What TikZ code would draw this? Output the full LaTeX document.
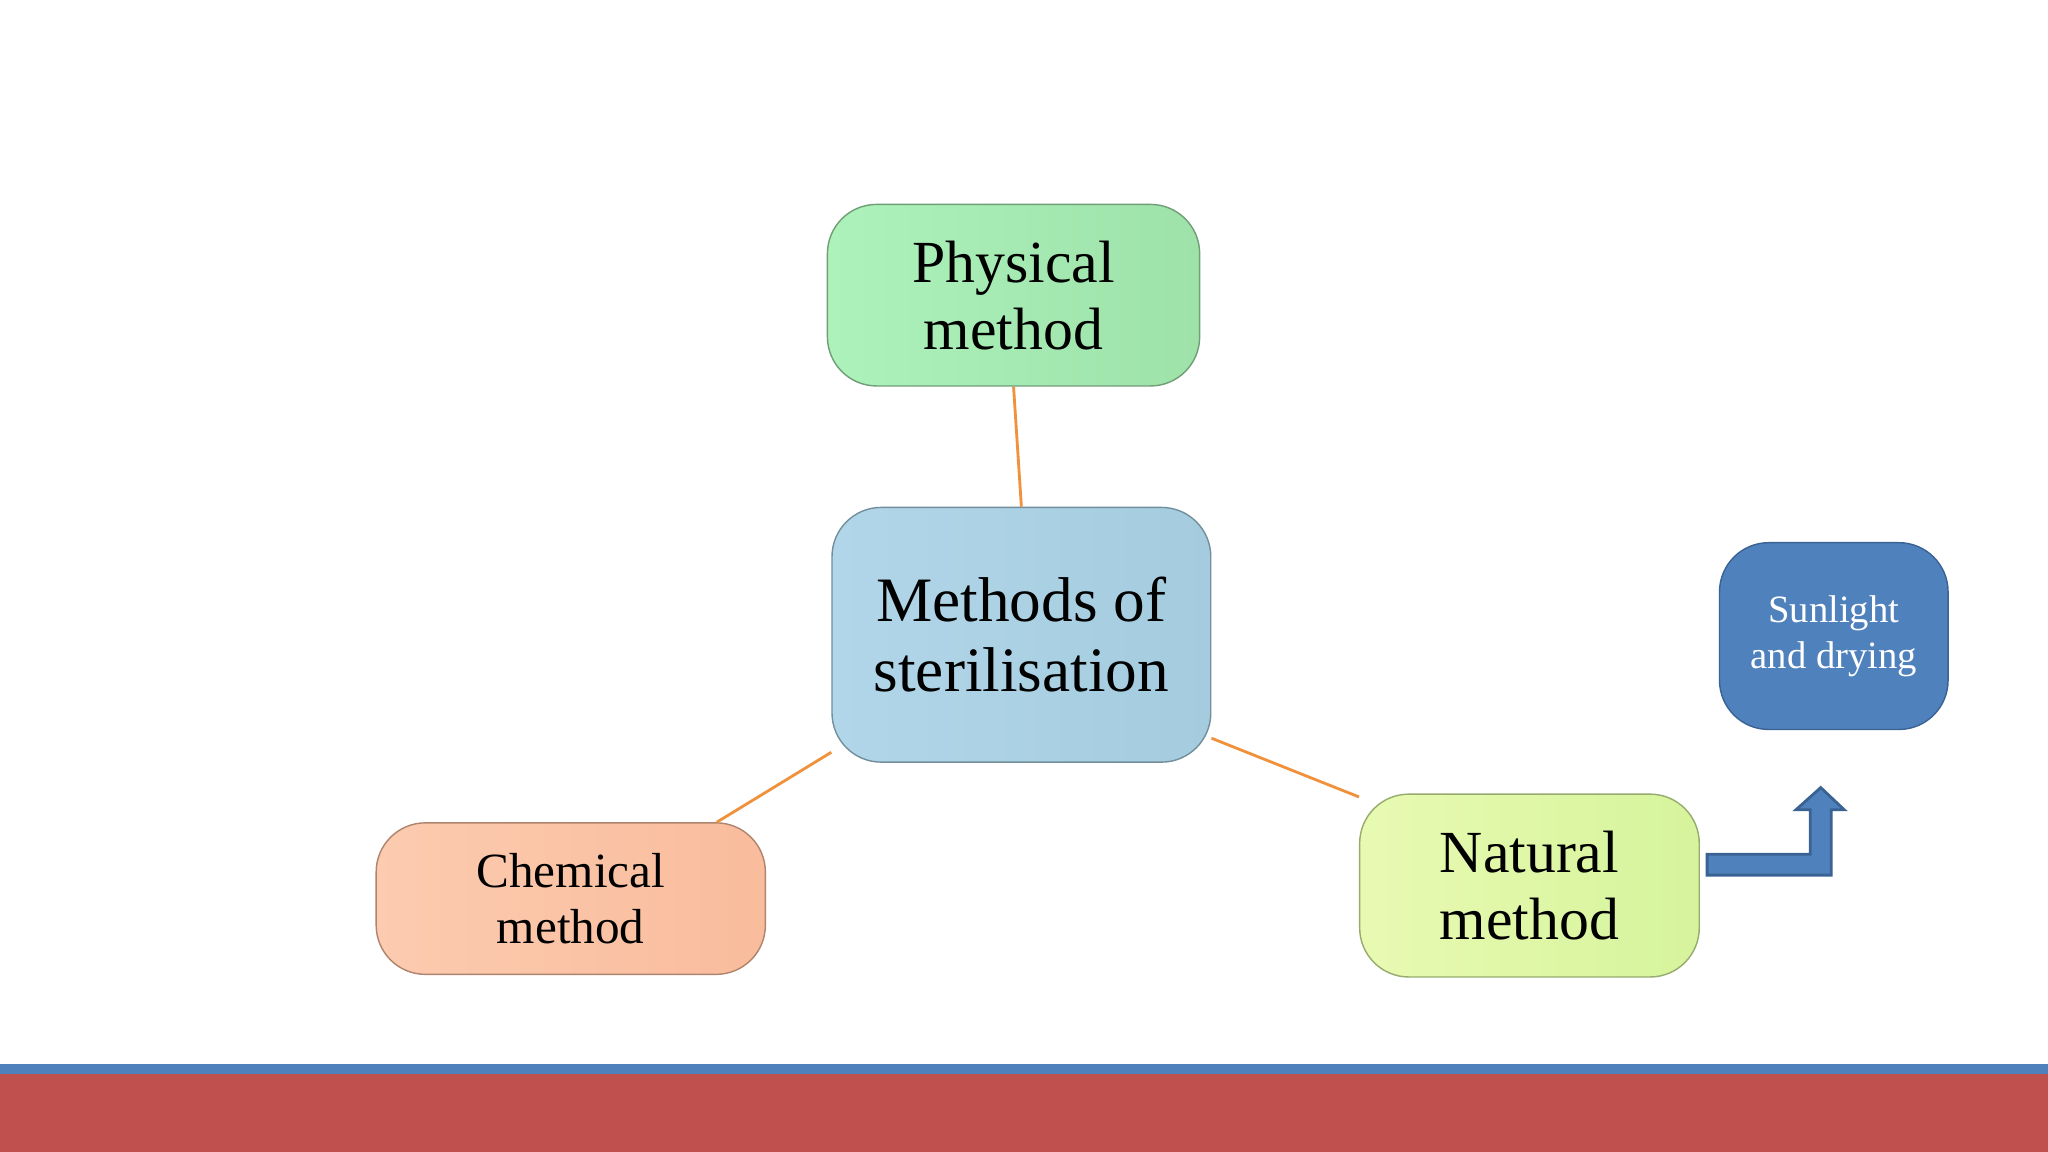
\documentclass[tikz,border=0pt]{standalone}
\usepackage{fontspec}
\setmainfont{Liberation Serif}
\definecolor{physL}{RGB}{172,242,186}\definecolor{physR}{RGB}{158,226,170}
\definecolor{methL}{RGB}{178,214,233}\definecolor{methR}{RGB}{164,204,222}
\definecolor{chemL}{RGB}{252,203,176}\definecolor{chemR}{RGB}{249,188,156}
\definecolor{natL}{RGB}{232,250,178}\definecolor{natR}{RGB}{214,244,156}
\definecolor{sunB}{RGB}{79,129,189}\definecolor{sunD}{RGB}{58,99,148}
\definecolor{barR}{RGB}{192,80,77}\definecolor{lineO}{RGB}{240,145,60}
\begin{document}
\begin{tikzpicture}[x=0.01306cm,y=-0.01306cm,
 box/.style={rounded corners=14pt,draw=#1,thin,align=center,inner sep=0pt},
 con/.style={draw=lineO,line width=0.8pt}]
\useasboundingbox (0,0) rectangle (1568,882);
\fill[white] (0,0) rectangle (1568,882);
\node[box=physR!70!black,left color=physL,right color=physR,minimum width=285*0.01306cm,minimum height=139*0.01306cm,font=\fontsize{17}{19}\selectfont] (phys) at (776,226) {Physical\\method};
\node[box=methR!70!black,left color=methL,right color=methR,minimum width=290*0.01306cm,minimum height=195*0.01306cm,font=\fontsize{18}{20}\selectfont] (meth) at (782,486) {Methods of\\sterilisation};
\node[box=chemR!70!black,left color=chemL,right color=chemR,minimum width=298*0.01306cm,minimum height=116*0.01306cm,font=\fontsize{14}{16}\selectfont] (chem) at (437,688) {Chemical\\method};
\node[box=natR!70!black,left color=natL,right color=natR,minimum width=260*0.01306cm,minimum height=140*0.01306cm,font=\fontsize{17}{19}\selectfont] (nat) at (1171,678) {Natural\\method};
\node[box=sunD,fill=sunB,text=white,minimum width=175*0.01306cm,minimum height=143*0.01306cm,font=\fontsize{11}{13}\selectfont] (sun) at (1404,487) {Sunlight\\and drying};
\draw[con] (phys.south) -- (meth.north);
\coordinate (a) at ([yshift=3pt]meth.south west);
\coordinate (b) at ([xshift=-14pt]chem.north east);
\draw[con] (a) -- (b);
\coordinate (c) at ([yshift=7pt]meth.south east);
\coordinate (d) at ([yshift=-1pt]nat.north west);
\draw[con] (c) -- (d);
\draw[fill=sunB,draw=sunD,line width=0.8pt]
 (1307,654) -- (1386,654) -- (1386,620) -- (1375,620) -- (1394,603) -- (1412,620) -- (1402,620) -- (1402,670) -- (1307,670) -- cycle;
\fill[sunB] (0,815) rectangle (1568,822);
\fill[barR] (0,822) rectangle (1568,882);
\end{tikzpicture}
\end{document}
